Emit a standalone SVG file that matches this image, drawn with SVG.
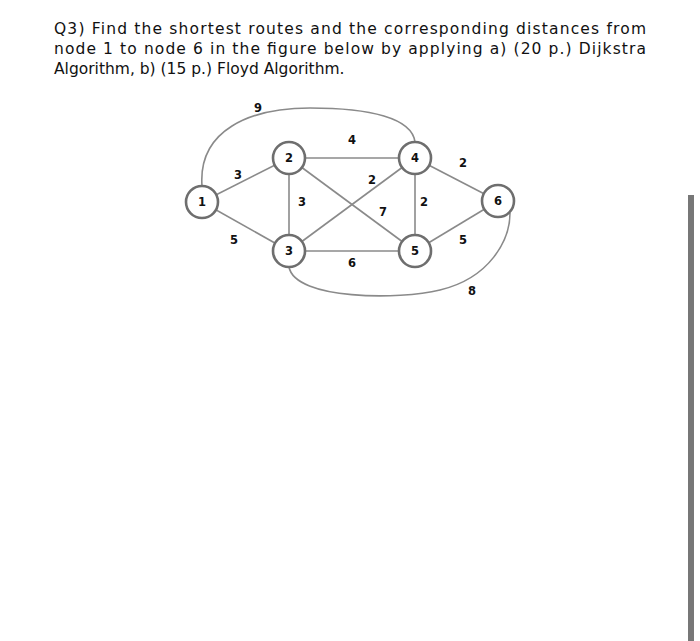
<svg xmlns="http://www.w3.org/2000/svg" width="700" height="641" viewBox="0 0 700 641">
<style>
.t{font-family:"DejaVu Sans",sans-serif;font-size:15.5px;fill:#111}
.e{stroke:#8a8a8a;stroke-width:1.6;fill:none}
.n circle{fill:#fff;stroke:#6e6e6e;stroke-width:2.6}
.n text,.w{font-family:"DejaVu Sans",sans-serif;font-size:11.5px;font-weight:bold;fill:#111;text-anchor:middle}
</style>
<rect width="700" height="641" fill="#fff"/>
<rect x="688" y="195" width="6" height="446" fill="#777"/>
<text class="t" x="54" y="34" textLength="592" lengthAdjust="spacing">Q3) Find the shortest routes and the corresponding distances from</text>
<text class="t" x="54" y="54" textLength="592" lengthAdjust="spacing">node 1 to node 6 in the figure below by applying a) (20 p.) Dijkstra</text>
<text class="t" x="54" y="74">Algorithm, b) (15 p.) Floyd Algorithm.</text>
<g id="connectors">
<path class="e" d="M202,186 C198,130 250,108 310,108 C370,108 412,118 415,142"/>
<path class="e" d="M289,267 C295,300 400,300 440,290 C490,278 510,240 510,213"/>
<line class="e" x1="202" y1="202" x2="289" y2="158"/>
<line class="e" x1="202" y1="202" x2="289" y2="251"/>
<line class="e" x1="289" y1="158" x2="415" y2="158"/>
<line class="e" x1="289" y1="158" x2="289" y2="251"/>
<line class="e" x1="289" y1="158" x2="415" y2="251"/>
<line class="e" x1="289" y1="251" x2="415" y2="158"/>
<line class="e" x1="289" y1="251" x2="415" y2="251"/>
<line class="e" x1="415" y1="158" x2="415" y2="251"/>
<line class="e" x1="415" y1="158" x2="498" y2="201"/>
<line class="e" x1="415" y1="251" x2="498" y2="201"/>
<text class="w" x="258" y="112">9</text>
<text class="w" x="352" y="144">4</text>
<text class="w" x="463" y="167">2</text>
<text class="w" x="238" y="179">3</text>
<text class="w" x="372" y="184">2</text>
<text class="w" x="302" y="206">3</text>
<text class="w" x="424" y="206">2</text>
<text class="w" x="383" y="216">7</text>
<text class="w" x="234" y="244">5</text>
<text class="w" x="463" y="244">5</text>
<text class="w" x="352" y="267">6</text>
<text class="w" x="472" y="295">8</text>
</g>
<g id="node1" class="n"><circle cx="202" cy="202" r="16"/><text x="202" y="206">1</text></g>
<g id="node2" class="n"><circle cx="289" cy="158" r="16"/><text x="289" y="162">2</text></g>
<g id="node3" class="n"><circle cx="289" cy="251" r="16"/><text x="289" y="255">3</text></g>
<g id="node4" class="n"><circle cx="415" cy="158" r="16"/><text x="415" y="162">4</text></g>
<g id="node5" class="n"><circle cx="415" cy="251" r="16"/><text x="415" y="255">5</text></g>
<g id="node6" class="n"><circle cx="498" cy="201" r="16"/><text x="498" y="205">6</text></g>
</svg>
